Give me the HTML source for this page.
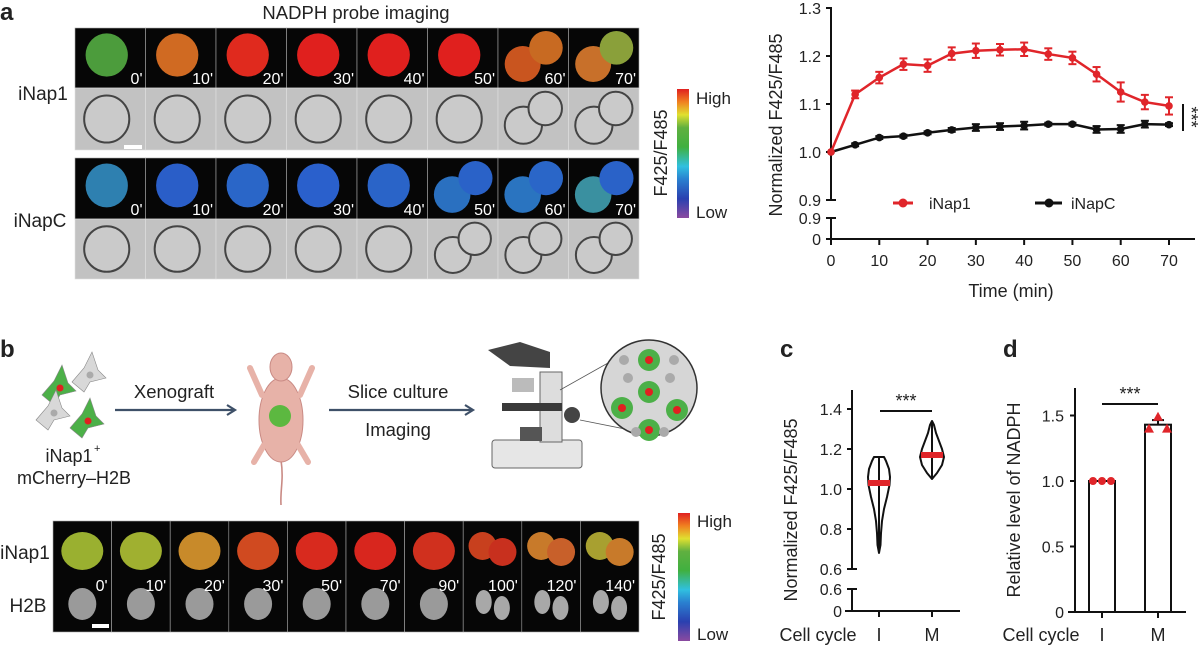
<!DOCTYPE html>
<html><head><meta charset="utf-8"><style>
html,body{margin:0;padding:0;background:#fff}
svg{display:block;font-family:"Liberation Sans",sans-serif}
</style></head><body>
<svg id="fig" width="1200" height="645" viewBox="0 0 1200 645" xmlns="http://www.w3.org/2000/svg">
<defs>
<linearGradient id="cbar" x1="0" y1="1" x2="0" y2="0">
<stop offset="0" stop-color="#8a4aa0"/><stop offset="0.15" stop-color="#2a40b0"/><stop offset="0.3" stop-color="#2a80d0"/><stop offset="0.4" stop-color="#30c0e0"/><stop offset="0.55" stop-color="#40b040"/><stop offset="0.7" stop-color="#60b040"/><stop offset="0.8" stop-color="#e0e030"/><stop offset="0.9" stop-color="#f08020"/><stop offset="1" stop-color="#e02020"/>
</linearGradient>
</defs>
<g id="root"></g>
</svg>
<script>
// ---- Line chart data (panel a) ----
const timePoints=[0,5,10,15,20,25,30,35,40,45,50,55,60,65,70];
const iNap1Values=[1.0,1.12,1.155,1.183,1.18,1.205,1.211,1.213,1.214,1.204,1.196,1.162,1.125,1.104,1.096];
const iNap1Errors=[0,0.008,0.012,0.012,0.013,0.013,0.015,0.012,0.014,0.012,0.013,0.015,0.02,0.015,0.018];
const iNapCValues=[1.0,1.015,1.03,1.033,1.04,1.046,1.051,1.053,1.055,1.058,1.058,1.047,1.048,1.058,1.057];
const iNapCErrors=[0,0.003,0.003,0.003,0.003,0.004,0.007,0.007,0.008,0.003,0.003,0.007,0.008,0.007,0.003];
const lineYTicks=[1.0,1.1,1.2,1.3];
const lineXTicks=[0,10,20,30,40,50,60,70];
// ---- Violin data (panel c) ----
const violinCategories=["I","M"];
const violinILevels=[0.68,0.72,0.78,0.84,0.9,0.96,1.02,1.06,1.1,1.14,1.16];
const violinIWidths=[0,1.5,2,3,5,8,10.5,11,10,7,5];
const violinMLevels=[1.05,1.08,1.12,1.16,1.2,1.24,1.28,1.32,1.34];
const violinMWidths=[0,5,10,12,10,7,4,2,0];
const violinMedians=[1.03,1.17];
const violinYTicks=[0.6,0.8,1.0,1.2,1.4];
// ---- Bar data (panel d) ----
const barCategories=["I","M"];
const barValues=[1.0,1.43];
const barErrors=[0,0.035];
const barPointsI=[1.0,1.0,1.0];
const barPointsM=[1.49,1.40,1.40];
const barYTicks=[0,0.5,1.0,1.5];

const NS="http://www.w3.org/2000/svg";
const root=document.getElementById('root');
function mk(tag,attrs,parent){const e=document.createElementNS(NS,tag);for(const k in attrs)e.setAttribute(k,attrs[k]);(parent||root).appendChild(e);return e;}
function txt(s,x,y,size,anchor,parent,extra){const t=mk('text',Object.assign({x:x,y:y,'font-size':size,'text-anchor':anchor||'start',fill:'#222'},extra||{}),parent);t.textContent=s;return t;}

// ===== Panel labels =====
let t;
t=txt('a',0,20,24,'start',null,{'font-weight':'bold'});


t=txt('b',0,357,24,'start',null,{'font-weight':'bold'});


t=txt('c',780,357,24,'start',null,{'font-weight':'bold'});


t=txt('d',1003,357,24,'start',null,{'font-weight':'bold'});



// ===== Panel a imaging grid =====
const ga=mk('g',{});


t=txt('NADPH probe imaging',356,19,18.5,'middle',ga);


const aLabels=["0'","10'","20'","30'","40'","50'","60'","70'"];
const aTop=[["#4c9c3c"],["#d06a22"],["#e02a1e"],["#e0201e"],["#e0201e"],["#e0201e"],["#c9551f","#c86a22"],["#c8702a","#8aa03a"]];
const aBot=[["#2e80b0"],["#2a5ec8"],["#2a66c8"],["#2a60cc"],["#2a64c8"],["#2a70c0","#2a62c8"],["#2a74c0","#2a66c8"],["#3a90a0","#2a62c8"]];
function colorCell(x,y,w,h,cols,label,parent){
  mk('rect',{x:x,y:y,width:w,height:h,fill:'#060606',stroke:'#aaa','stroke-width':0.6},parent);
  if(cols.length==1){mk('ellipse',{cx:x+w*0.45,cy:y+h*0.45,rx:w*0.3,ry:h*0.36,fill:cols[0]},parent);}
  else{mk('circle',{cx:x+w*0.35,cy:y+h*0.6,r:h*0.3,fill:cols[0]},parent);mk('circle',{cx:x+w*0.68,cy:y+h*0.33,r:h*0.28,fill:cols[1]},parent);}
  txt(label,x+w-3,y+h-4,16,'end',parent,{fill:'#fff'});
}
function brightCell(x,y,w,h,n,parent){
  mk('rect',{x:x,y:y,width:w,height:h,fill:'#c2c2c2',stroke:'#e0e0e0','stroke-width':0.6},parent);
  if(n==1){mk('ellipse',{cx:x+w*0.45,cy:y+h*0.5,rx:w*0.32,ry:h*0.38,fill:'#cacaca',stroke:'#444','stroke-width':2},parent);}
  else{mk('circle',{cx:x+w*0.36,cy:y+h*0.6,r:h*0.3,fill:'#cacaca',stroke:'#444','stroke-width':2},parent);mk('circle',{cx:x+w*0.67,cy:y+h*0.33,r:h*0.27,fill:'#cacaca',stroke:'#444','stroke-width':2},parent);}
}
const colW=70.5;
for(let i=0;i<8;i++){
  const x=75+i*colW;
  const c1=mk('g',{},ga);
  
  
  colorCell(x,28,colW,60,aTop[i],aLabels[i],c1);
  brightCell(x,88,colW,62,aTop[i].length,c1);
  const c2=mk('g',{},ga);
  
  
  colorCell(x,158,colW,61,aBot[i],aLabels[i],c2);
  brightCell(x,219,colW,60,aBot[i].length,c2);
}
mk('rect',{x:124,y:145,width:18,height:4,fill:'#fff'},ga);
t=txt('iNap1',43,100,19,'middle',ga);


t=txt('iNapC',40,227,19,'middle',ga);


const cba=mk('rect',{x:677,y:89,width:12,height:129,fill:'url(#cbar)'});


txt('High',696,104,17,'start');
txt('Low',696,218,17,'start');
t=txt('F425/F485',667,153,18,'middle',null,{transform:'rotate(-90 667 153)'});



// ===== Line chart =====
const gl=mk('g',{});


const lx=v=>831+v*(338/70);
const ly=v=>152-(v-1)*480;
mk('line',{x1:831,y1:7,x2:831,y2:201,stroke:'#111','stroke-width':2},gl);
mk('line',{x1:831,y1:217,x2:831,y2:239,stroke:'#111','stroke-width':2},gl);
mk('line',{x1:826,y1:200,x2:836,y2:200,stroke:'#111','stroke-width':2},gl);
mk('line',{x1:826,y1:218,x2:836,y2:218,stroke:'#111','stroke-width':2},gl);
mk('line',{x1:826,y1:239,x2:1195,y2:239,stroke:'#111','stroke-width':2},gl);
lineYTicks.forEach(v=>{mk('line',{x1:826,y1:ly(v),x2:831,y2:ly(v),stroke:'#111','stroke-width':2},gl);txt(v.toFixed(1),821,ly(v)+6,16,'end',gl);});
txt('0.9',821,206,16,'end',gl);txt('0.9',821,224,16,'end',gl);txt('0',821,245,16,'end',gl);
lineXTicks.forEach(v=>{mk('line',{x1:lx(v),y1:239,x2:lx(v),y2:245,stroke:'#111','stroke-width':2},gl);txt(String(v),lx(v),266,16,'middle',gl);});
t=txt('Time (min)',1011,297,18,'middle',gl);


t=txt('Normalized F425/F485',782,125,18,'middle',gl,{transform:'rotate(-90 782 125)'});


function series(vals,errs,color,name){
  const g=mk('g',{},gl);
  
  
  mk('polyline',{points:timePoints.map((t,i)=>lx(t)+','+ly(vals[i])).join(' '),fill:'none',stroke:color,'stroke-width':2.5},g);
  timePoints.forEach((tt,i)=>{
    const x=lx(tt),y1=ly(vals[i]+errs[i]),y2=ly(vals[i]-errs[i]);
    if(errs[i]>0){mk('line',{x1:x,y1:y1,x2:x,y2:y2,stroke:color,'stroke-width':2},g);
    mk('line',{x1:x-4,y1:y1,x2:x+4,y2:y1,stroke:color,'stroke-width':2},g);
    mk('line',{x1:x-4,y1:y2,x2:x+4,y2:y2,stroke:color,'stroke-width':2},g);}
    const p=mk('circle',{cx:x,cy:ly(vals[i]),r:3.8,fill:color},g);
    
    
  });
}
series(iNapCValues,iNapCErrors,'#111','series-inapc');
series(iNap1Values,iNap1Errors,'#e0252a','series-inap1');
const lg1=mk('g',{},gl);


mk('line',{x1:893,y1:203,x2:913,y2:203,stroke:'#e0252a','stroke-width':3},lg1);
mk('circle',{cx:903,cy:203,r:4.5,fill:'#e0252a'},lg1);
txt('iNap1',929,209,16,'start',lg1);
const lg2=mk('g',{},gl);


mk('line',{x1:1035,y1:203,x2:1062,y2:203,stroke:'#111','stroke-width':3},lg2);
mk('circle',{cx:1049,cy:203,r:4.5,fill:'#111'},lg2);
txt('iNapC',1071,209,16,'start',lg2);
mk('line',{x1:1183,y1:104,x2:1183,y2:131,stroke:'#111','stroke-width':2},gl);
t=txt('***',1185,117,18,'middle',gl,{transform:'rotate(90 1185 117)'});



// ===== Panel b schematic =====
const gb=mk('g',{});


[[58,385,'#4cb048',true],[88,372,'#d8d8d8',false],[52,410,'#d8d8d8',false],[86,418,'#4cb048',true]].forEach(c=>{
  mk('path',{d:`M${c[0]-16},${c[1]+10} L${c[0]-4},${c[1]-4} L${c[0]+4},${c[1]-20} L${c[0]+10},${c[1]-2} L${c[0]+18},${c[1]+6} L${c[0]+2},${c[1]+10} L${c[0]-4},${c[1]+20} Z`,fill:c[2],stroke:'#888','stroke-width':0.6},gb);
  mk('circle',{cx:c[0]+2,cy:c[1]+3,r:3.5,fill:c[3]?'#e02020':'#aaa'},gb);
});
txt('iNap1',69,462,18,'middle',gb);
mk('text',{x:94,y:452,'font-size':11,fill:'#222'},gb).textContent='+';
txt('mCherry–H2B',74,484,18,'middle',gb);
t=txt('Xenograft',174,398,18.5,'middle',gb);


function arrow(x1,x2,y){mk('line',{x1:x1,y1:y,x2:x2-2,y2:y,stroke:'#3e5068','stroke-width':2.2},gb);mk('path',{d:`M${x2-8},${y-5} L${x2},${y} L${x2-8},${y+5}`,fill:'none',stroke:'#3e5068','stroke-width':2.2},gb);}
arrow(115,235,410);arrow(329,473,410);
t=txt('Slice culture',398,398,18.5,'middle',gb);


txt('Imaging',398,436,18.5,'middle',gb);
const mouse=mk('g',{},gb);


mk('path',{d:'M281,505 C280,490 284,480 281,460',fill:'none',stroke:'#c98a84','stroke-width':1.6},mouse);
mk('ellipse',{cx:281,cy:420,rx:22,ry:42,fill:'#e7b2a8',stroke:'#c98a84'},mouse);
mk('ellipse',{cx:281,cy:367,rx:11,ry:14,fill:'#e7b2a8',stroke:'#c98a84'},mouse);
mk('path',{d:'M262,395 L250,368 M300,395 L312,368 M264,445 L254,462 M298,445 L308,462',stroke:'#e7b2a8','stroke-width':6,'stroke-linecap':'round'},mouse);
mk('circle',{cx:280,cy:416,r:11,fill:'#5cb840'},mouse);
const ms=mk('g',{},gb);


mk('rect',{x:492,y:440,width:90,height:28,rx:3,fill:'#e6e6e6',stroke:'#666'},ms);
mk('rect',{x:540,y:372,width:22,height:70,fill:'#ddd',stroke:'#666'},ms);
mk('rect',{x:502,y:403,width:60,height:8,fill:'#3a3a3a'},ms);
mk('rect',{x:520,y:427,width:22,height:14,fill:'#555'},ms);
mk('path',{d:'M488,350 L520,342 L550,352 L550,368 L510,366 Z',fill:'#444'},ms);
mk('rect',{x:512,y:378,width:22,height:14,fill:'#bbb'},ms);
mk('circle',{cx:572,cy:415,r:8,fill:'#444'},ms);
mk('line',{x1:560,y1:390,x2:640,y2:345,stroke:'#555','stroke-width':0.8},ms);
mk('line',{x1:580,y1:420,x2:640,y2:432,stroke:'#555','stroke-width':0.8},ms);
const circ=mk('g',{},gb);


mk('circle',{cx:649,cy:388,r:48,fill:'#d6d6d6',stroke:'#333','stroke-width':1.5},circ);
[[649,360],[649,392],[622,408],[677,410],[649,430]].forEach(p=>{mk('circle',{cx:p[0],cy:p[1],r:11,fill:'#4cb048'},circ);mk('circle',{cx:p[0],cy:p[1],r:4,fill:'#e02020'},circ);});
[[628,378],[670,378],[636,432],[664,432],[624,360],[674,360]].forEach(p=>mk('circle',{cx:p[0],cy:p[1],r:5,fill:'#aaa'},circ));

// ===== Panel b strip =====
const gs=mk('g',{});


const bLabels=["0'","10'","20'","30'","50'","70'","90'","100'","120'","140'"];
const bCols=[["#9ab030"],["#a0b030"],["#c88a2a"],["#d04a20"],["#d82a1e"],["#d8261e"],["#d0301e"],["#c8401e","#c8301e"],["#c87a2a","#c8602a"],["#a8a030","#c87a2a"]];
const bw=58.6;
for(let i=0;i<10;i++){
  const x=53+bw*i;
  const f=mk('g',{},gs);
  
  
  mk('rect',{x:x,y:521,width:bw,height:111,fill:'#060606',stroke:'#aaa','stroke-width':0.6},f);
  const c=bCols[i];
  if(c.length==1){mk('ellipse',{cx:x+bw*0.5,cy:551,rx:21,ry:19,fill:c[0]},f);mk('ellipse',{cx:x+bw*0.5,cy:604,rx:14,ry:16,fill:'#9a9a9a'},f);}
  else{mk('circle',{cx:x+bw*0.33,cy:546,r:14,fill:c[0]},f);mk('circle',{cx:x+bw*0.67,cy:552,r:14,fill:c[1]},f);
    mk('ellipse',{cx:x+bw*0.35,cy:602,rx:8,ry:12,fill:'#a8a8a8'},f);mk('ellipse',{cx:x+bw*0.66,cy:608,rx:8,ry:12,fill:'#a8a8a8'},f);}
  txt(bLabels[i],x+bw-4,591,16,'end',f,{fill:'#fff'});
}
mk('rect',{x:92,y:624,width:17,height:4,fill:'#fff'},gs);
txt('iNap1',25,559,19,'middle',gs);
txt('H2B',28,612,19,'middle',gs);
const cbb=mk('rect',{x:678,y:513,width:12,height:128,fill:'url(#cbar)'});


txt('High',697,527,17,'start');txt('Low',697,640,17,'start');
txt('F425/F485',665,577,18,'middle',null,{transform:'rotate(-90 665 577)'});

// ===== Panel c violin =====
const gc=mk('g',{});


const cy=v=>489-(v-1)*200;
const cx=i=>[879,932][i];
mk('line',{x1:852,y1:390,x2:852,y2:570,stroke:'#111','stroke-width':2},gc);
mk('line',{x1:852,y1:588,x2:852,y2:611,stroke:'#111','stroke-width':2},gc);
mk('line',{x1:847,y1:569,x2:857,y2:569,stroke:'#111','stroke-width':2},gc);
mk('line',{x1:847,y1:589,x2:857,y2:589,stroke:'#111','stroke-width':2},gc);
mk('line',{x1:845,y1:611,x2:960,y2:611,stroke:'#111','stroke-width':2},gc);
violinYTicks.forEach(v=>{if(v>0.6){mk('line',{x1:847,y1:cy(v),x2:852,y2:cy(v),stroke:'#111','stroke-width':2},gc);}txt(v.toFixed(1),842,cy(v)+6,16,'end',gc);});
txt('0.6',842,595,16,'end',gc);txt('0',842,617,16,'end',gc);
violinCategories.forEach((c,i)=>{mk('line',{x1:cx(i),y1:611,x2:cx(i),y2:617,stroke:'#111','stroke-width':2},gc);txt(c,cx(i),641,18,'middle',gc);});
txt('Cell cycle',818,641,18,'middle',gc);
t=txt('Normalized F425/F485',797,510,18,'middle',gc,{transform:'rotate(-90 797 510)'});


function violin(levels,widths,i,name){
  const x=cx(i);
  let d='M'+x+','+cy(levels[0]);
  levels.forEach((l,k)=>d+=' L'+(x+widths[k])+','+cy(l));
  d+=' L'+x+','+cy(levels[levels.length-1]);
  for(let k=levels.length-1;k>=0;k--)d+=' L'+(x-widths[k])+','+cy(levels[k]);
  const p=mk('path',{d:d+'Z',fill:'#fff',stroke:'#111','stroke-width':2,'stroke-linejoin':'round'},gc);
  
  
  mk('line',{x1:x,y1:cy(levels[0]),x2:x,y2:cy(levels[levels.length-1]),stroke:'#111','stroke-width':2},gc);
  const m=mk('rect',{x:x-11,y:cy(violinMedians[i])-3,width:22,height:6,fill:'#e0252a'},gc);
  
  
}
violin(violinILevels,violinIWidths,0,'violin-I');
violin(violinMLevels,violinMWidths,1,'violin-M');
mk('line',{x1:880,y1:411,x2:932,y2:411,stroke:'#111','stroke-width':2},gc);
txt('***',906,407,18,'middle',gc);

// ===== Panel d bars =====
const gd=mk('g',{});


const dy=v=>612-v*131;
const dx=i=>[1102,1158][i];
mk('line',{x1:1075,y1:388,x2:1075,y2:612,stroke:'#111','stroke-width':2},gd);
mk('line',{x1:1068,y1:612,x2:1186,y2:612,stroke:'#111','stroke-width':2},gd);
barYTicks.forEach(v=>{mk('line',{x1:1070,y1:dy(v),x2:1075,y2:dy(v),stroke:'#111','stroke-width':2},gd);txt(v===0?'0':v.toFixed(1),1064,dy(v)+6,16,'end',gd);});
barCategories.forEach((c,i)=>{
  const b=mk('rect',{x:dx(i)-13,y:dy(barValues[i]),width:26,height:612-dy(barValues[i]),fill:'#fff',stroke:'#111','stroke-width':2},gd);
  
  
  if(barErrors[i]>0){const y1=dy(barValues[i]+barErrors[i]);mk('line',{x1:dx(i),y1:y1,x2:dx(i),y2:dy(barValues[i]),stroke:'#111','stroke-width':2},gd);mk('line',{x1:dx(i)-6,y1:y1,x2:dx(i)+6,y2:y1,stroke:'#111','stroke-width':2},gd);}
  mk('line',{x1:dx(i),y1:612,x2:dx(i),y2:618,stroke:'#111','stroke-width':2},gd);
  txt(c,dx(i),641,18,'middle',gd);
});
barPointsI.forEach((v,k)=>{const p=mk('circle',{cx:dx(0)-9+k*9,cy:dy(v),r:4,fill:'#e0252a'},gd);});
barPointsM.forEach((v,k)=>{const x=dx(1)+[0,-9,9][k],y=dy(v);const p=mk('path',{d:`M${x},${y-5} L${x+5},${y+4} L${x-5},${y+4}Z`,fill:'#e0252a'},gd);});
txt('Cell cycle',1041,641,18,'middle',gd);
t=txt('Relative level of NADPH',1020,500,18,'middle',gd,{transform:'rotate(-90 1020 500)'});


mk('line',{x1:1102,y1:404,x2:1158,y2:404,stroke:'#111','stroke-width':2},gd);
txt('***',1130,400,18,'middle',gd);
</script>
</body></html>
